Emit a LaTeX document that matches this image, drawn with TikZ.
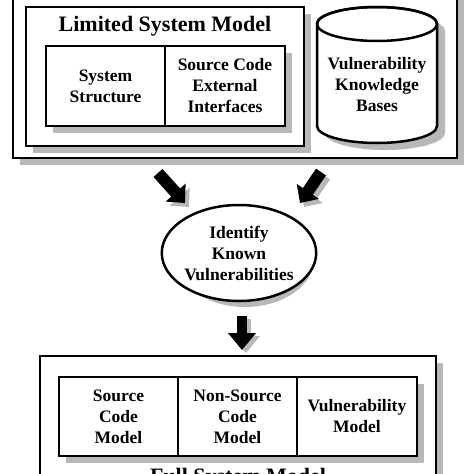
\documentclass[tikz,border=0pt]{standalone}
\usepackage{fontspec}
\setmainfont{Liberation Serif}
\usetikzlibrary{arrows.meta,shapes.geometric}
\begin{document}
\begin{tikzpicture}[x=1pt,y=-1pt,
  shadowc/.style={fill=black!28},
  frame/.style={draw, line width=2.8pt, fill=white, inner sep=0pt},
  cell/.style={draw, line width=2.2pt, fill=white, inner sep=0pt, align=center,
    font=\fontsize{17.5}{21}\selectfont\bfseries},
  txt/.style={inner sep=0pt, align=center, font=\fontsize{17.5}{21}\selectfont\bfseries},
  ttl/.style={inner sep=0pt, font=\fontsize{22}{26}\selectfont\bfseries},
  diagarrow/.style={line width=12pt, -{Triangle[width=26pt,length=14pt]}},
  downarrow/.style={line width=10pt, -{Triangle[width=27pt,length=17pt]}},
  ashadow/.style={draw=black!28}]
\useasboundingbox (0,0) rectangle (474,474);

% ---- top frame
\fill[shadowc] (20,-3) rectangle (464,165);
\node[frame, minimum width=444pt, minimum height=168pt] (outer1) at (235,74) {};

% limited system model
\fill[shadowc] (33,14) rectangle (311,153);
\node[frame, line width=2.5pt, minimum width=278pt, minimum height=139pt] (lsm) at (165,76.5) {};
\node[ttl] (lsmtitle) at (165,26) {Limited System Model};
\fill[shadowc] (53,53) rectangle (292,133);
\node[cell, minimum width=119pt, minimum height=80pt] (c1) at (105.5,86) {System\\Structure};
\node[cell, minimum width=120pt, minimum height=80pt] (c2) at (225,86) {Source Code\\External\\Interfaces};

% cylinder
\fill[shadowc] (325,31) -- (325,133) arc[start angle=180,end angle=360,x radius=60pt,y radius=17pt]
   -- (445,31) arc[start angle=0,end angle=180,x radius=60pt,y radius=17pt] -- cycle;
\filldraw[fill=white, line width=2.5pt] (317,24) -- (317,126) arc[start angle=180,end angle=360,x radius=60pt,y radius=17pt]
   -- (437,24) arc[start angle=0,end angle=180,x radius=60pt,y radius=17pt] -- cycle;
\draw[line width=2.5pt] (377,24) ellipse[x radius=60pt,y radius=17pt];
\node[txt] (vkb) at (377,85) {Vulnerability\\Knowledge\\Bases};

% arrows
\coordinate (a1s) at (158,173);
\coordinate (a1e) at (185,203);
\coordinate (a2s) at (321,172);
\coordinate (a2e) at (300,203);
\coordinate (a3s) at (242,316);
\coordinate (a3e) at (242,350);
\draw[diagarrow, ashadow] ([shift={(4,4)}]a1s) -- ([shift={(4,4)}]a1e);
\draw[diagarrow, ashadow] ([shift={(4,4)}]a2s) -- ([shift={(4,4)}]a2e);
\draw[downarrow, ashadow] ([shift={(4,3)}]a3s) -- ([shift={(4,3)}]a3e);
\draw[diagarrow] (a1s) -- (a1e);
\draw[diagarrow] (a2s) -- (a2e);
\draw[downarrow] (a3s) -- (a3e);

% ellipse
\fill[shadowc] (245,259) ellipse[x radius=69pt,y radius=48pt];
\node[ellipse, draw, line width=2.5pt, fill=white, minimum width=138pt, minimum height=96pt,
  inner sep=0pt, align=center, font=\fontsize{17.5}{21}\selectfont\bfseries] (ikv) at (239,253)
  {Identify\\Known\\Vulnerabilities};

% ---- bottom frame
\fill[shadowc] (47,363) rectangle (443,510);
\node[frame, minimum width=396pt, minimum height=150pt] (outer2) at (238,431) {};
\fill[shadowc] (66,384) rectangle (424,463);
\node[cell, minimum width=119pt, minimum height=79pt] (b1) at (118.5,416.5) {Source\\Code\\Model};
\node[cell, minimum width=119pt, minimum height=79pt] (b2) at (237.5,416.5) {Non-Source\\Code\\Model};
\node[cell, minimum width=120pt, minimum height=79pt] (b3) at (357,416.5) {Vulnerability\\Model};
\node[ttl, anchor=base] (fsm) at (238,483) {Full System Model};
\end{tikzpicture}
\end{document}
